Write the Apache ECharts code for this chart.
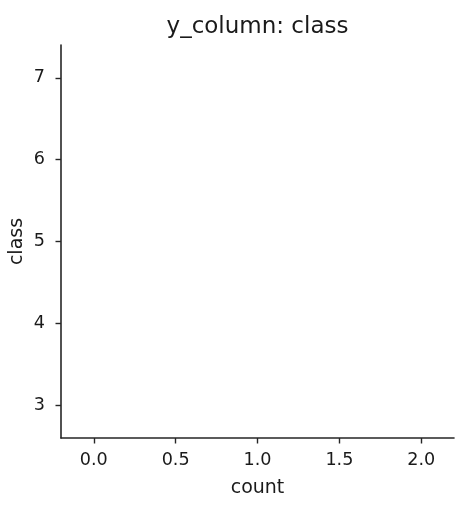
<!DOCTYPE html>
<html>
<head>
<meta charset="utf-8">
<script src="https://cdn.jsdelivr.net/npm/echarts@6/dist/echarts.min.js"></script>
<style>
html,body{margin:0;padding:0;background:#fff;}
#chart{width:474px;height:506px;}
</style>
</head>
<body>
<div id="chart"></div>
<script>
// Data: the reference chart is empty (no bars drawn)
const categories = [];
const counts = [];
const xTickValues = [0, 0.5, 1, 1.5, 2];
const yTickValues = [3, 4, 5, 6, 7];
const xRange = [-0.2, 2.2];
const yRange = [2.6, 7.4];

const chart = echarts.init(document.getElementById('chart'), null, {renderer: 'canvas'});
const font = 'DejaVu Sans';
const ink = '#262626';
const txt = '#1a1a1a';
chart.setOption({
  animation: false,
  backgroundColor: '#ffffff',
  title: {
    text: 'y_column: class',
    left: 252.5,
    textAlign: 'center',
    top: 11,
    textStyle: {fontFamily: font, fontSize: 23, fontWeight: 'normal', color: txt}
  },
  grid: {left: 61, right: 20, top: 45, bottom: 68, containLabel: false, outerBoundsMode: 'none'},
  xAxis: {
    type: 'value',
    min: xRange[0], max: xRange[1],
    name: 'count', nameLocation: 'middle', nameGap: 41,
    nameMoveOverlap: false,
    nameTextStyle: {fontFamily: font, fontSize: 19, color: txt},
    axisLine: {show: true, onZero: false, lineStyle: {color: ink, width: 1.6}},
    axisTick: {show: true, length: 5.5, customValues: xTickValues, lineStyle: {color: ink, width: 1.4}},
    axisLabel: {customValues: xTickValues, margin: 13, fontFamily: font, fontSize: 17.6, color: txt,
      formatter: v => v.toFixed(1)},
    splitLine: {show: false}
  },
  yAxis: {
    type: 'value',
    min: yRange[0], max: yRange[1],
    name: 'class', nameLocation: 'middle', nameGap: 34, nameRotate: 90,
    nameMoveOverlap: false,
    nameTextStyle: {fontFamily: font, fontSize: 19, color: txt},
    axisLine: {show: true, onZero: false, lineStyle: {color: ink, width: 1.6}},
    axisTick: {show: true, length: 5.5, customValues: yTickValues, lineStyle: {color: ink, width: 1.4}},
    axisLabel: {customValues: yTickValues, margin: 16, fontFamily: font, fontSize: 17.6, color: txt,
      formatter: v => String(v)},
    splitLine: {show: false}
  },
  series: [{
    type: 'bar',
    data: counts.map((c, i) => [c, categories[i]]),
    itemStyle: {color: '#1f77b4'}
  }]
});
</script>
</body>
</html>
